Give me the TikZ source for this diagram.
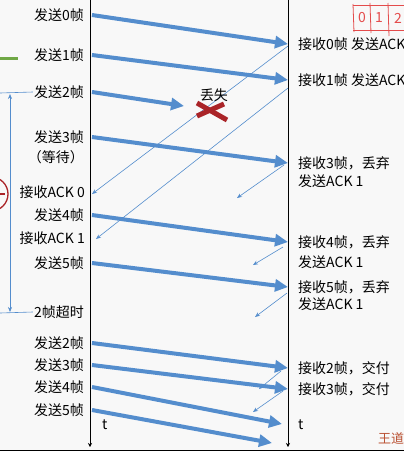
\documentclass[tikz,border=0pt]{standalone}
\usepackage{fontspec}
\setmainfont{Noto Sans CJK SC}
\usetikzlibrary{arrows.meta}

\definecolor{frameblue}{RGB}{84,141,205}
\definecolor{lostred}{RGB}{170,36,40}
\definecolor{penred}{RGB}{228,76,76}
\definecolor{markgreen}{RGB}{112,168,70}
\definecolor{wdbrown}{RGB}{186,82,52}
\definecolor{bggray}{RGB}{248,248,248}

\tikzset{
  sendlbl/.style={anchor=east, inner sep=0pt},
  recvlbl/.style={anchor=west, inner sep=0pt},
  frame/.style={draw=frameblue, line width=4pt, -{Triangle[length=13pt,width=12pt]}},
  ack/.style={draw=frameblue, line width=0.6pt, -{Stealth[length=5pt,width=4pt]}},
  timeline/.style={draw, line width=0.8pt, -{Stealth[length=4pt,width=4pt]}}
}

\begin{document}
\begin{tikzpicture}[x=1pt,y=-1pt,font=\fontsize{14}{16}\selectfont]

        \useasboundingbox (0,0) rectangle (404,451);
        \clip (0,0) rectangle (404,451);
        \fill[bggray] (0,0) rectangle (404,451);

        % time lines
        \coordinate (stop) at (90,0);
        \coordinate (sbot) at (90,447);
        \coordinate (rtop) at (288,0);
        \coordinate (rbot) at (288,447);
        \draw[timeline] (stop) -- (sbot);
        \draw[timeline] (rtop) -- (rbot);
        \draw[line width=1pt] (0,450.5) -- (404,450.5);

        \begin{scope}[every node/.style={sendlbl}]
          \node (s0)  at (84,15)  {发送0帧};
          \node (s1)  at (84,55)  {发送1帧};
          \node (s2)  at (84,92)  {发送2帧};
          \node (s3)  at (84,137) {发送3帧};
          \node (w3)  at (84,157) {（等待）};
          \node (a0)  at (85,192) {接收ACK 0};
          \node (s4)  at (84,215) {发送4帧};
          \node (a1)  at (85,238) {接收ACK 1};
          \node (s5)  at (84,263) {发送5帧};
          \node (to)  at (84,312) {2帧超时};
          \node (t2)  at (84,343) {发送2帧};
          \node (t3)  at (84,365) {发送3帧};
          \node (t4)  at (84,387) {发送4帧};
          \node (t5)  at (84,410) {发送5帧};
        \end{scope}

        \begin{scope}[every node/.style={recvlbl}]
          \node (r0)  at (298,44)  {接收0帧 发送ACK 0};
          \node (r1)  at (298,80)  {接收1帧 发送ACK 1};
          \node (r3)  at (298,163) {接收3帧，丢弃};
          \node (k3)  at (298,181) {发送ACK 1};
          \node (r4)  at (298,242) {接收4帧，丢弃};
          \node (k4)  at (298,262) {发送ACK 1};
          \node (r5)  at (298,287) {接收5帧，丢弃};
          \node (k5)  at (298,304) {发送ACK 1};
          \node (q2)  at (298,368) {接收2帧，交付};
          \node (q3)  at (298,389) {接收3帧，交付};
          \node (tr)  at (298,425) {t};
          \node (ts)  at (102,425) {t};
        \end{scope}

        \coordinate (lost) at (184,106);
        \coordinate (e4) at (282,424);
        \coordinate (e5) at (272,443);

        % data frames
        \draw[frame] ([xshift=8pt]s0.east) -- ([xshift=-10pt]r0.west);
        \draw[frame] ([xshift=8pt]s1.east) -- ([xshift=-10pt]r1.west);
        \draw[frame] ([xshift=8pt]s2.east) -- (lost);
        \draw[frame] ([xshift=8pt]s3.east) -- ([xshift=-10pt]r3.west);
        \draw[frame] ([xshift=8pt]s4.east) -- ([xshift=-10pt]r4.west);
        \draw[frame] ([xshift=8pt]s5.east) -- ([xshift=-10pt]r5.west);
        \draw[frame] ([xshift=8pt]t2.east) -- ([xshift=-10pt]q2.west);
        \draw[frame] ([xshift=8pt]t3.east) -- ([xshift=-10pt]q3.west);
        \draw[frame] ([xshift=8pt]t4.east) -- (e4);
        \draw[frame] ([xshift=8pt]t5.east) -- (e5);

        % acks
        \coordinate (c0) at (288,46);
        \coordinate (c1) at (288,88);
        \coordinate (c3) at (284,165);
        \coordinate (d3) at (237,198);
        \coordinate (c4) at (283,247);
        \coordinate (d4) at (253,265);
        \coordinate (c5) at (287,293);
        \coordinate (d5) at (255,317);
        \coordinate (c6) at (281,371);
        \coordinate (d6) at (259,389);
        \coordinate (c7) at (283,391);
        \coordinate (d7) at (253,412);
        \draw[ack] (c0) -- ([xshift=7pt,yshift=-2pt]a0.east);
        \draw[ack] (c1) -- ([xshift=11pt,yshift=-1pt]a1.east);
        \draw[ack] (c3) -- (d3);
        \draw[ack] (c4) -- (d4);
        \draw[ack] (c5) -- (d5);
        \draw[ack] (c6) -- (d6);
        \draw[ack] (c7) -- (d7);

        % lost frame
        \draw[lostred, line width=5pt] (197,103) -- (227,120);
        \draw[lostred, line width=5pt] (197,116) -- (224,104);
        \node (ls) at (214,95) {丢失};

        % timeout
        \coordinate (tt) at (0,93);
        \coordinate (tb) at (0,313);
        \draw[frameblue, line width=0.6pt] (tt) -- ([xshift=-1pt]s2.west);
        \draw[frameblue, line width=0.6pt] (tb) -- ([xshift=-1pt]to.west);
        \draw[frameblue, line width=0.6pt, {Stealth[length=5pt,width=4pt]}-{Stealth[length=5pt,width=4pt]}]
          (10,94) -- (10,312);

        % marks on the slide
        \draw[markgreen, line width=3pt] (0,58) -- (18,58);
        \draw[lostred, line width=1.3pt] (-9,194) circle (17);
        \draw[lostred, line width=1.3pt] (0,194) -- (5,194);
        \begin{scope}[penred, line width=0.8pt]
          \draw (353,5) -- (404,5);
          \draw (353,30) -- (404,30);
          \draw (353,4) -- (354,32);
          \draw (370,3) -- (371,33);
          \draw (388,3) -- (389,36);
          \node[text=penred] (h0) at (362,18) {0};
          \node[text=penred] (h1) at (379,18) {\itshape 1};
          \node[text=penred] (h2) at (398,18) {2};
        \end{scope}
        \node[anchor=west, inner sep=0pt, text=wdbrown, font=\fontsize{13}{15}\selectfont] (wd) at (378,438) {王道};

      \end{tikzpicture}
\end{document}
